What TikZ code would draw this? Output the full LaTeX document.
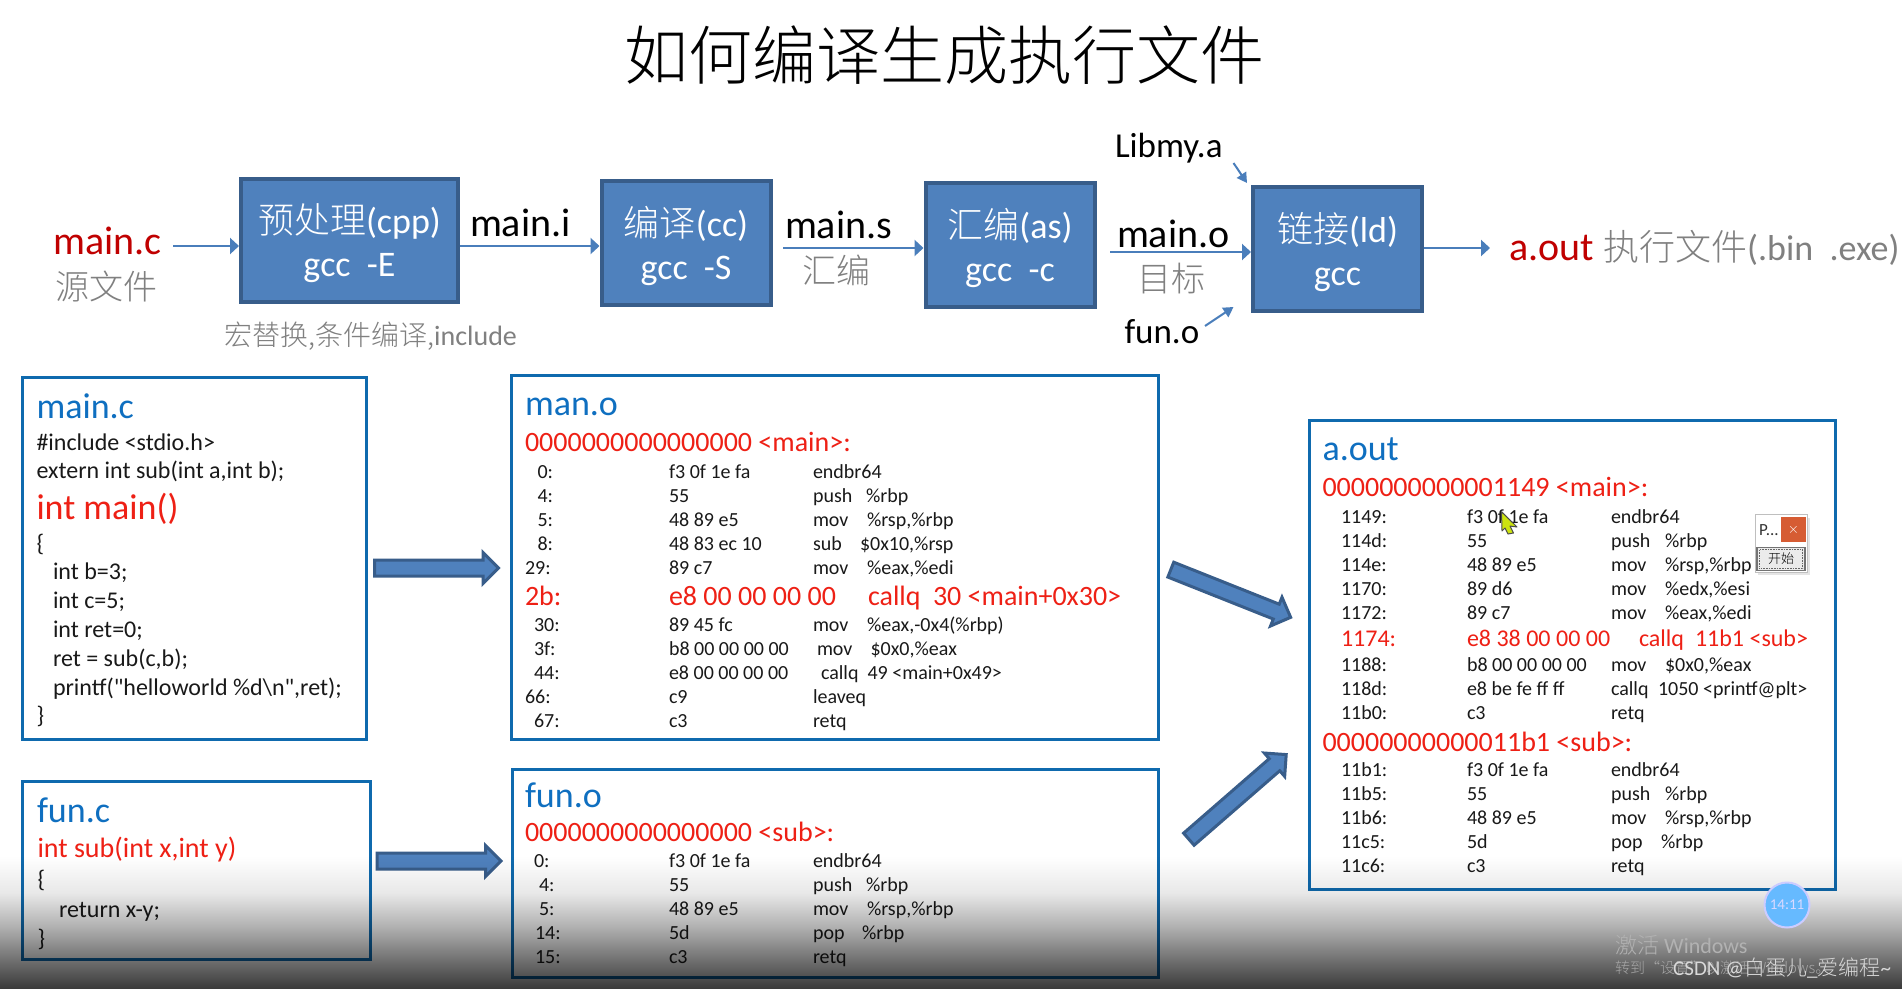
\documentclass[tikz,border=0pt]{standalone}
\usepackage{fontspec}
\setmainfont{Carlito}
\newfontfamily\srcfont{Carlito}
\newfontfamily\cjk{Noto Sans CJK SC Light}
\usetikzlibrary{arrows.meta,shapes.arrows}
\definecolor{boxfill}{HTML}{4F81BD}
\definecolor{boxline}{HTML}{385D8A}
\definecolor{arrowc}{HTML}{4A7EBB}
\definecolor{hblue}{HTML}{0F6FC0}
\definecolor{frameblue}{HTML}{0F6AAE}
\definecolor{darkred}{HTML}{C00000}
\definecolor{codered}{HTML}{EE2015}
\definecolor{graytxt}{HTML}{808080}
\pgfdeclareverticalshading{fadeb}{100bp}{color(0bp)=(black!77); color(25bp)=(black!77); color(34.5bp)=(black!56); color(45.6bp)=(black!31); color(57.1bp)=(black!9); color(69.6bp)=(white); color(100bp)=(white)}
\newcounter{tn}
\newcommand{\fs}[1]{\fontsize{#1}{#1}\selectfont}
\newcommand{\T}[4]{\stepcounter{tn}\node[txt,#1] (t\arabic{tn}) at (#2,#3) {#4};}
\newcommand{\Q}[9]{\T{row}{#2}{#1}{#3}\T{row}{#4}{#1}{#5}\T{row}{#6}{#1}{#7}\T{row}{#8}{#1}{#9}}
\newcommand{\lw}[1]{\raisebox{-14.5pt}[0pt][0pt]{#1}}
\tikzset{
  txt/.style={inner sep=0pt,outer sep=0pt,anchor=base west},
  row/.style={font=\fs{20},text=black!90},
  redrow/.style={font=\fs{28},text=codered},
  redsm/.style={font=\fs{24},text=codered},
  ttl/.style={font=\fs{36},text=hblue},
  src/.style={font=\fs{24},text=black!90},
  flow/.style={font=\fs{40},text=black},
  grayc/.style={inner sep=0pt,outer sep=0pt,font={\cjk\fs{34}},text=graytxt},
  stage/.style={draw=boxline,fill=boxfill,line width=4pt,text=white,align=center,inner sep=0pt,font={\fontsize{36}{43}\selectfont}},
  frame/.style={draw=frameblue,line width=3pt,inner sep=0pt},
  conn/.style={draw=arrowc,line width=2.6pt,-{Triangle[width=16pt,length=9pt]}},
  thin conn/.style={draw=arrowc,line width=2pt,-{Triangle[width=11pt,length=10pt]}},
  big/.style={single arrow,draw=boxline,fill=boxfill,line width=3pt,inner xsep=0pt,inner ysep=6.5pt,minimum width=28pt,single arrow head extend=7.5pt},
}
\begin{document}
\begin{tikzpicture}[x=1pt,y=-1pt]
\useasboundingbox (0,0) rectangle (1902,988);
\fill[white] (0,0) rectangle (1902,988);
% title
\node[inner sep=0pt,font={\cjk\fs{64}}] (title) at (944,55) {如何编译生成执行文件};
% flow boxes
\node[stage,minimum width=217pt,minimum height=123pt] (pre) at (349.5,240.5) {\lw{{\cjk 预处理}(cpp)}\\\lw{gcc\ \ -E}};
\node[stage,minimum width=169pt,minimum height=124pt] (cc) at (686,243) {\lw{{\cjk 编译}(cc)}\\\lw{gcc\ \ -S}};
\node[stage,minimum width=169pt,minimum height=124pt] (as) at (1010,245) {\lw{{\cjk 汇编}(as)}\\\lw{gcc\ \ -c}};
\node[stage,minimum width=169pt,minimum height=124pt] (ld) at (1337.5,249) {\lw{{\cjk 链接}(ld)}\\\lw{gcc}};
% flow labels
\T{font=\fs{40},text=darkred}{53.5}{254}{main.c}
\node[grayc] (srcl) at (106,287) {源文件};
\T{flow}{470}{236}{main.i}
\T{flow}{785}{238}{main.s}
\node[grayc] (asml) at (836,270) {汇编};
\T{flow}{1117}{247}{main.o}
\node[grayc] (objl) at (1171,279) {目标};
\T{font=\fs{35},text=black}{1115}{157}{Libmy.a}
\T{font=\fs{35},text=black}{1124.5}{343}{fun.o}
\node[inner sep=0pt,anchor=west,font={\cjk\fs{28}},text=graytxt] (macro) at (224,336) {宏替换,条件编译,{\rmfamily include}};
\node[inner sep=0pt,anchor=base west,font=\fs{40},text=darkred] (aout) at (1509,260) {a.out};
\node[inner sep=0pt,anchor=base west,font=\fs{36},text=graytxt] (exe) at (1603,260) {{\cjk 执行文件}(.bin\ \ .exe)};
% flow connectors
\coordinate (s1) at (173,246);
\coordinate (s2) at (783,248);
\coordinate (s3) at (1110,252);
\coordinate (s4) at (1233.5,163);
\coordinate (e4) at (1247,183);
\coordinate (s5) at (1205,326);
\coordinate (e5) at (1233.5,307);
\coordinate (e6) at (1490,248);
\draw[conn] (s1) -- (s1 -| pre.west);
\draw[conn] (pre.east |- s1) -- (cc.west |- s1);
\draw[conn] (s2) -- (as.west |- s2);
\draw[conn] (s3) -- (ld.west |- s3);
\draw[thin conn] (s4) -- (e4);
\draw[thin conn] (s5) -- (e5);
\draw[conn] (ld.east |- e6) -- (e6);
% frames
\node[frame,minimum width=344pt,minimum height=362pt] (fmainc) at (194.5,558) {};
\node[frame,minimum width=647pt,minimum height=364pt] (fmano) at (835,557) {};
\node[frame,minimum width=348pt,minimum height=178pt] (ffunc) at (196,870) {};
\node[frame,minimum width=646pt,minimum height=208pt] (ffuno) at (835.5,873) {};
\node[frame,minimum width=526pt,minimum height=469pt] (faout) at (1572.5,654.5) {};
% big arrows
\node[big,minimum height=124pt] (b1) at (432.5,568) {};
\node[big,minimum height=124pt] (b2) at (435,861) {};
\node[big,minimum height=129pt,rotate=-21.7] (b3) at (1227,592) {};
\node[big,minimum height=129pt,rotate=41] (b4) at (1234.5,799.5) {};
% main.c
\T{ttl}{36.5}{418.5}{main.c}
\T{src}{36.5}{450}{\#include <stdio.h>}
\T{src}{36.5}{478}{extern int sub(int a,int b);}
\T{font=\fs{36},text=codered}{36.5}{519}{int main()}
\T{src}{36.5}{551}{\{}
\T{src}{53}{579}{int b=3;}
\T{src}{53}{608}{int c=5;}
\T{src}{53}{637}{int ret=0;}
\T{src}{53}{666}{ret = sub(c,b);}
\T{src}{53}{695}{\srcfont printf("helloworld \%d\textbackslash n",ret);}
\T{src}{36.5}{723}{\}}
% fun.c
\T{ttl}{37}{822}{fun.c}
\T{redrow}{37.5}{857}{int sub(int x,int y)}
\T{src}{37.5}{887}{\{}
\T{src}{59}{917}{return x-y;}
\T{src}{37.5}{946}{\}}
% man.o
\T{ttl}{525}{415}{man.o}
\T{redrow}{525}{451}{0000000000000000 <main>:}
\Q{478}{537.5}{0:}{669}{f3 0f 1e fa}{813}{endbr64}{866}{}
\Q{502}{537.5}{4:}{669}{55}{813}{push}{866}{\%rbp}
\Q{526}{537.5}{5:}{669}{48 89 e5}{813}{mov}{867}{\%rsp,\%rbp}
\Q{550}{537.5}{8:}{669}{48 83 ec 10}{813}{sub}{860}{\$0x10,\%rsp}
\Q{574}{525}{29:}{669}{89 c7}{813}{mov}{867}{\%eax,\%edi}
\T{redrow}{525}{605}{2b:}
\T{redrow}{669}{605}{e8 00 00 00 00}
\T{redrow}{868}{605}{callq}
\T{redrow}{933}{605}{30 <main+0x30>}
\Q{631}{534}{30:}{669}{89 45 fc}{813}{mov}{867}{\%eax,-0x4(\%rbp)}
\Q{655}{534}{3f:}{669}{b8 00 00 00 00}{817}{mov}{870.5}{\$0x0,\%eax}
\Q{679}{534}{44:}{669}{e8 00 00 00 00}{821}{callq}{867.5}{49 <main+0x49>}
\Q{703}{525}{66:}{669}{c9}{813}{leaveq}{866}{}
\Q{727}{534}{67:}{669}{c3}{813}{retq}{866}{}
% fun.o
\T{ttl}{525}{807}{fun.o}
\T{redrow}{525}{841}{0000000000000000 <sub>:}
\Q{867}{534}{0:}{669}{f3 0f 1e fa}{813}{endbr64}{866}{}
\Q{891}{539}{4:}{669}{55}{813}{push}{866}{\%rbp}
\Q{915}{539}{5:}{669}{48 89 e5}{813}{mov}{867}{\%rsp,\%rbp}
\Q{939}{535}{14:}{669}{5d}{813}{pop}{862}{\%rbp}
\Q{963}{535}{15:}{669}{c3}{813}{retq}{866}{}
% a.out
\T{ttl}{1322.5}{460}{a.out}
\T{redrow}{1322.5}{496}{0000000000001149 <main>:}
\Q{523.5}{1341}{1149:}{1467}{f3 0f 1e fa}{1611}{endbr64}{1665}{}
\Q{547.5}{1341}{114d:}{1467}{55}{1611}{push}{1665}{\%rbp}
\Q{571.5}{1341}{114e:}{1467}{48 89 e5}{1611}{mov}{1665}{\%rsp,\%rbp}
\Q{595.5}{1341}{1170:}{1467}{89 d6}{1611}{mov}{1665}{\%edx,\%esi}
\Q{619.5}{1341}{1172:}{1467}{89 c7}{1611}{mov}{1665}{\%eax,\%edi}
\T{redsm}{1341}{646}{1174:}
\T{redsm}{1467}{646}{e8 38 00 00 00}
\T{redsm}{1639}{646}{callq}
\T{redsm}{1695}{646}{11b1 <sub>}
\Q{671}{1341}{1188:}{1467}{b8 00 00 00 00}{1611}{mov}{1665}{\$0x0,\%eax}
\Q{695}{1341}{118d:}{1467}{e8 be fe ff ff}{1611}{callq}{1658}{1050 <printf@plt>}
\Q{719}{1341}{11b0:}{1467}{c3}{1611}{retq}{1665}{}
\T{redrow}{1322.5}{751}{00000000000011b1 <sub>:}
\Q{776.5}{1341}{11b1:}{1467}{f3 0f 1e fa}{1611}{endbr64}{1665}{}
\Q{800.5}{1341}{11b5:}{1467}{55}{1611}{push}{1665}{\%rbp}
\Q{824.5}{1341}{11b6:}{1467}{48 89 e5}{1611}{mov}{1665}{\%rsp,\%rbp}
\Q{848.5}{1341}{11c5:}{1467}{5d}{1611}{pop}{1661}{\%rbp}
\Q{872.5}{1341}{11c6:}{1467}{c3}{1611}{retq}{1665}{}
% cursor
\draw[fill=yellow!80!green,draw=black!70,line width=1pt,line join=round]
  (1501.5,511.7) -- (1517,527) -- (1510,526) -- (1513.5,533) -- (1508,534) -- (1505,528) -- (1502,531) -- cycle;
% popup
\fill[black!10] (1758,518) rectangle (1810,575);
\node[draw=black!25,fill=white,line width=.8pt,minimum width=52pt,minimum height=58pt,inner sep=0pt] (popup) at (1781,543) {};
\node[fill=red!50!orange!80!black!80,minimum width=25pt,minimum height=25pt,inner sep=0pt,text=white,font={\fs{14}}] (closeb) at (1793.5,529.5) {$\times$};
\node[inner sep=0pt,font=\fs{17},anchor=west,text=black!80] (ptitle) at (1759,530) {P...};
\node[draw=black!55,fill=black!8,line width=1.5pt,minimum width=48pt,minimum height=23pt,inner sep=0pt,font={\cjk\fs{13}}] (startb) at (1781,559) {开始};
\draw[black!60,densely dotted,line width=.6pt] (startb.south west)++(3,-3) rectangle ([xshift=-3pt,yshift=-3pt]startb.north east);
% gradient overlay
\shade[shading=fadeb,blend mode=multiply] (0,840) rectangle (1902,988);
% clock
\node[circle,fill=blue!45!cyan!60!white,draw=white!80!blue,line width=2pt,minimum size=45pt,inner sep=0pt,text=white!85!blue,font=\fs{15}] (clock) at (1787,905) {14:11};
% watermark
\node[inner sep=0pt,anchor=west,font={\fs{22}},text=black!30] (wm1) at (1615,945) {{\cjk 激活} Windows};
\node[inner sep=0pt,anchor=west,font={\cjk\fs{15}},text=black!35] (wm2) at (1615,968) {转到“设置”以激活 Windows。};
\node[inner sep=0pt,anchor=west,font={\fs{21}},text=black!15] (csdn) at (1673,968) {CSDN @{\cjk 白蛋儿}\_{\cjk 爱编程}\textasciitilde};
\end{tikzpicture}
\end{document}
